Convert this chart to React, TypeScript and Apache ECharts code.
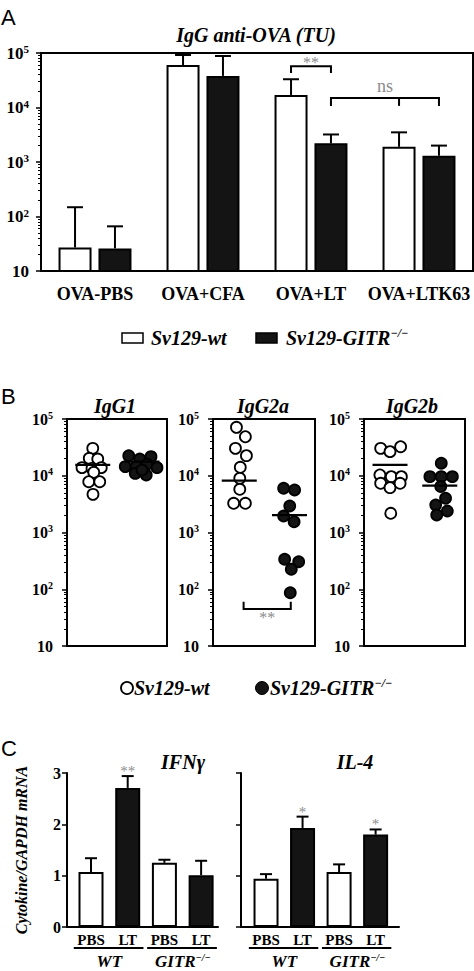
import { useEffect, useRef } from 'react';
import * as echarts from 'echarts';

const SERIF = '"Liberation Serif", "Times New Roman", "DejaVu Serif", serif';
const SANS = '"Liberation Sans", Arial, sans-serif';
const GREY = '#8c8c8c';
const INK = '#141414';

// Panel A - IgG anti-OVA (TU), mean and upper error value per group
const groupsA = ['OVA-PBS', 'OVA+CFA', 'OVA+LT', 'OVA+LTK63'];
const wtA = [27, 60000, 17000, 1900];
const wtAUpper = [148, 92000, 33000, 3500];
const koA = [26, 38000, 2200, 1300];
const koAUpper = [66, 88000, 3200, 2000];

// Panel B - individual mice (x = jitter position, 1 = wt column, 3 = GITR-/- column)
const g1WtX = [1.03, 0.89, 1.23, 0.6, 1.0, 1.37, 1.07, 0.87, 1.31, 1.04];
const g1Wt = [30400, 20300, 19700, 13900, 13500, 13900, 11500, 7850, 7850, 4700];
const g1KoX = [2.47, 2.91, 3.36, 2.33, 2.77, 3.2, 3.6, 2.73, 3.17, 3.0];
const g1Ko = [22500, 19700, 21700, 14500, 14500, 15900, 13900, 11000, 10300, 12600];
const g2aWtX = [0.92, 1.27, 0.88, 1.31, 1.07, 1.05, 1.05, 0.81, 1.27];
const g2aWt = [71300, 48700, 30400, 22600, 14100, 9000, 5770, 3270, 3270];
const g2aKoX = [2.77, 3.2, 3.01, 2.77, 3.18, 2.81, 3.36, 3.07, 3.03];
const g2aKo = [6010, 5610, 2930, 1950, 1550, 337, 306, 225, 87];
const g2bWtX = [0.66, 1.03, 1.45, 0.63, 1.08, 1.48, 0.66, 1.03, 1.43, 1.06];
const g2bWt = [30400, 26600, 32500, 10300, 9640, 9640, 7360, 6170, 7360, 2180];
const g2bKoX = [3.06, 2.61, 3.06, 3.5, 3.04, 3.23, 2.84, 3.3, 2.88];
const g2bKo = [16600, 9640, 9640, 9640, 6450, 4010, 3050, 2390, 2030];
const groupX = [1.03, 3.0];
const g1Means = [15500, 17800];
const g2aMeans = [8200, 2030];
const g2bMeans = [15500, 6700];
const isotypes = ['IgG1', 'IgG2a', 'IgG2b'];

// Panel C - cytokine / GAPDH mRNA
const treatments = ['PBS', 'LT', 'PBS', 'LT'];
const strains = ['WT', 'GITR'];
const ifng = [1.07, 2.71, 1.25, 1.01];
const ifngUpper = [1.34, 2.94, 1.31, 1.29];
const ifngSig = ['', '**', '', ''];
const il4 = [0.94, 1.93, 1.07, 1.8];
const il4Upper = [1.03, 2.15, 1.22, 1.9];
const il4Sig = ['', '*', '', '*'];

const DECADES = [10, 100, 1000, 10000, 100000];
const MINOR: number[] = [];
DECADES.slice(0, 4).forEach((d) => {
  for (let k = 2; k <= 9; k++) MINOR.push(k * d);
});

const BAR_A = 33;
const OFF_A = (BAR_A * 1.21) / 2;

const logLabel = (v: number) => {
  const e = Math.round(Math.log10(v));
  return e === 1 ? '{b|10}' : `{b|10}{s|${e}}`;
};

const logRich = (size: number) => ({
  b: { fontFamily: SERIF, fontSize: size, fontWeight: 'bold', color: '#000', lineHeight: size + 2 },
  s: {
    fontFamily: SERIF,
    fontSize: Math.round(size * 0.62),
    fontWeight: 'bold',
    color: '#000',
    lineHeight: Math.round(size * 0.62),
    verticalAlign: 'top',
  },
});

const logMajor = (gridIndex: number, size: number, margin: number) => ({
  type: 'log',
  logBase: 10,
  gridIndex,
  min: 10,
  max: 100000,
  position: 'left',
  axisLine: { show: true, onZero: false, lineStyle: { color: '#000', width: 2 } },
  axisTick: { show: true, length: 5, lineStyle: { color: '#000', width: 1.5 } },
  splitLine: { show: false },
  axisLabel: { margin, formatter: logLabel, rich: logRich(size) },
});

const logMinor = (gridIndex: number) => ({
  type: 'log',
  logBase: 10,
  gridIndex,
  min: 10,
  max: 100000,
  position: 'left',
  axisLine: { show: false, onZero: false },
  axisTick: { show: true, length: 3, customValues: MINOR, lineStyle: { color: '#000', width: 1 } },
  axisLabel: { show: false },
  splitLine: { show: false },
});

const font = (size: number, style = 'normal', weight = 'bold') => ({
  fontFamily: SERIF,
  fontSize: size,
  fontWeight: weight,
  fontStyle: style,
});

const errorBars = (
  xAxisIndex: number,
  yAxisIndex: number,
  means: number[],
  uppers: number[],
  offset: number,
  cap: number,
  marks?: string[],
) => ({
  type: 'custom',
  xAxisIndex,
  yAxisIndex,
  z: 4,
  silent: true,
  data: means.map((m, i) => [i, m, uppers[i]]),
  renderItem: (params: any, api: any) => {
    const lo = api.coord([api.value(0), api.value(1)]);
    const hi = api.coord([api.value(0), api.value(2)]);
    const x = lo[0] + offset;
    const children: any[] = [
      { type: 'line', shape: { x1: x, y1: lo[1], x2: x, y2: hi[1] }, style: { stroke: '#000', lineWidth: 2 } },
      { type: 'line', shape: { x1: x - cap, y1: hi[1], x2: x + cap, y2: hi[1] }, style: { stroke: '#000', lineWidth: 2 } },
    ];
    const mark = marks ? marks[params.dataIndex] : '';
    if (mark) {
      children.push({
        type: 'text',
        x,
        y: hi[1] - 5,
        style: { text: mark, fill: GREY, ...font(15, 'normal', 'normal'), align: 'center', verticalAlign: 'middle' },
      });
    }
    return { type: 'group', children };
  },
});

// significance brackets of panel A, in data coordinates (category, side of the pair)
const bracketsA = [
  { x0: 2, s0: -1, x1: 2, s1: 1, mid: -1, sm: 0, top: 57000, leg: 43000, text: '**', dy: -4 },
  { x0: 2, s0: 1, x1: 3, s1: 1, mid: 3, sm: -1, top: 14900, leg: 10700, text: 'ns', dy: -12 },
];

const scatter = (axis: number, xs: number[], ys: number[], filled: boolean) => ({
  type: 'scatter',
  xAxisIndex: axis,
  yAxisIndex: axis * 2,
  symbol: 'circle',
  symbolSize: 11,
  z: 3,
  silent: true,
  data: ys.map((v, i) => [xs[i], v]),
  itemStyle: { color: filled ? INK : '#fff', borderColor: '#000', borderWidth: 1.8, opacity: 1 },
});

const meanLines = (axis: number, means: number[]) => ({
  type: 'custom',
  xAxisIndex: axis,
  yAxisIndex: axis * 2,
  z: 6,
  silent: true,
  data: means.map((m, i) => [groupX[i], m]),
  renderItem: (_p: any, api: any) => {
    const p = api.coord([api.value(0), api.value(1)]);
    return {
      type: 'line',
      shape: { x1: p[0] - 17.5, y1: p[1], x2: p[0] + 17.5, y2: p[1] },
      style: { stroke: '#000', lineWidth: 2.2 },
    };
  },
});

const cBars = (axis: number, values: number[]) => ({
  type: 'bar',
  xAxisIndex: axis,
  yAxisIndex: axis + 4,
  barWidth: 25,
  z: 2,
  silent: true,
  data: values.map((v, i) => ({
    value: [i, v],
    itemStyle: { color: i % 2 ? INK : '#fff', borderColor: '#000', borderWidth: 2 },
  })),
});

const strainLabels = (axis: number) => ({
  type: 'custom',
  xAxisIndex: axis,
  yAxisIndex: axis + 4,
  silent: true,
  data: [[0.5, 0], [2.5, 0]],
  renderItem: (params: any, api: any) => {
    const x = api.value(0);
    const a = api.coord([x - 0.97, 0]);
    const b = api.coord([x + 0.93, 0]);
    const c = api.coord([x, 0]);
    const name = strains[params.dataIndex];
    return {
      type: 'group',
      children: [
        { type: 'line', shape: { x1: a[0], y1: a[1] + 21, x2: b[0], y2: b[1] + 21 }, style: { stroke: '#000', lineWidth: 2 } },
        {
          type: 'text',
          x: c[0],
          y: c[1] + 34,
          style: {
            text: name === 'WT' ? '{i|WT}' : '{i|GITR}{s|\u2212/\u2212}',
            align: 'center',
            verticalAlign: 'middle',
            rich: {
              i: { ...font(17, 'italic'), fill: '#000', lineHeight: 18 },
              s: { ...font(10, 'italic'), fill: '#000', lineHeight: 10, verticalAlign: 'top' },
            },
          },
        },
      ],
    };
  },
});

const cX = (gridIndex: number, min: number, max: number) => ({
  type: 'value',
  gridIndex,
  min,
  max,
  axisLine: { show: true, onZero: false, lineStyle: { color: '#000', width: 2 } },
  axisTick: { show: false },
  splitLine: { show: false },
  axisLabel: {
    customValues: [0, 1, 2, 3],
    formatter: (v: number) => treatments[Math.round(v)],
    margin: 5,
    color: '#000',
    ...font(15),
  },
});

const cY = (gridIndex: number, labels: boolean) => ({
  type: 'value',
  gridIndex,
  min: 0,
  max: 3,
  interval: 1,
  position: 'left',
  axisLine: { show: true, onZero: false, lineStyle: { color: '#000', width: 2 } },
  axisTick: { show: true, length: 5, lineStyle: { color: '#000', width: 1.5 } },
  splitLine: { show: false },
  axisLabel: { show: labels, margin: 6, color: '#000', ...font(16) },
  name: labels ? 'Cytokine/GAPDH mRNA' : '',
  nameLocation: 'middle',
  nameGap: 38,
  nameRotate: 90,
  nameTextStyle: { color: '#000', ...font(16, 'italic') },
});

const gText = (x: number, y: number, text: string, style: any) => ({
  type: 'text',
  x,
  y,
  silent: true,
  style: { text, fill: '#000', verticalAlign: 'middle', ...style },
});

const legendRich = {
  t: { ...font(20, 'italic'), fill: '#000', lineHeight: 22 },
  s: { ...font(12, 'italic'), fill: '#000', lineHeight: 12, verticalAlign: 'top' },
};

function buildOption(): any {
  const box = { show: true, borderColor: '#000', borderWidth: 2, backgroundColor: 'transparent' };
  return {
    animation: false,
    backgroundColor: '#fff',
    grid: [
      { left: 41, top: 53, width: 432, height: 218, ...box },
      { left: 67, top: 419, width: 100, height: 227, ...box },
      { left: 213, top: 419, width: 102, height: 227, ...box },
      { left: 364, top: 419, width: 101, height: 227, ...box },
      { left: 67, top: 773, width: 151, height: 154 },
      { left: 241, top: 773, width: 158, height: 154 },
    ],
    xAxis: [
      {
        type: 'category',
        gridIndex: 0,
        data: groupsA,
        axisLine: { show: true, lineStyle: { color: '#000', width: 2 } },
        axisTick: { show: false },
        axisLabel: { interval: 0, margin: 14, color: '#000', ...font(18) },
      },
      { type: 'value', gridIndex: 1, min: 0, max: 4, show: false },
      { type: 'value', gridIndex: 2, min: 0, max: 4, show: false },
      { type: 'value', gridIndex: 3, min: 0, max: 4, show: false },
      cX(4, -0.654, 3.46),
      cX(5, -0.685, 3.64),
    ],
    yAxis: [
      logMajor(0, 17, 12),
      logMinor(0),
      logMajor(1, 16, 14),
      logMinor(1),
      logMajor(2, 16, 14),
      logMinor(2),
      logMajor(3, 16, 14),
      logMinor(3),
      cY(4, true),
      cY(5, false),
    ],
    series: [
      // panel A
      {
        type: 'bar',
        xAxisIndex: 0,
        yAxisIndex: 0,
        data: wtA,
        barWidth: BAR_A,
        barGap: '21%',
        clip: true,
        silent: true,
        z: 2,
        itemStyle: { color: '#fff', borderColor: '#000', borderWidth: 2 },
      },
      {
        type: 'bar',
        xAxisIndex: 0,
        yAxisIndex: 0,
        data: koA,
        barWidth: BAR_A,
        barGap: '21%',
        clip: true,
        silent: true,
        z: 2,
        itemStyle: { color: INK, borderColor: '#000', borderWidth: 2 },
      },
      errorBars(0, 0, wtA, wtAUpper, -OFF_A, 8),
      errorBars(0, 0, koA, koAUpper, OFF_A, 8),
      {
        type: 'custom',
        xAxisIndex: 0,
        yAxisIndex: 0,
        silent: true,
        z: 5,
        data: bracketsA.map((b) => [b.x0, b.top]),
        renderItem: (params: any, api: any) => {
          const b = bracketsA[params.dataIndex];
          const p0 = api.coord([b.x0, b.top]);
          const p1 = api.coord([b.x1, b.top]);
          const yLeg = api.coord([b.x0, b.leg])[1];
          const xa = p0[0] + b.s0 * OFF_A;
          const xb = p1[0] + b.s1 * OFF_A;
          const line = { stroke: '#000', lineWidth: 2, fill: null };
          const children: any[] = [
            {
              type: 'polyline',
              shape: { points: [[xa, yLeg], [xa, p0[1]], [xb, p0[1]], [xb, yLeg]] },
              style: line,
            },
            {
              type: 'text',
              x: (xa + xb) / 2,
              y: p0[1] + b.dy,
              style: {
                text: b.text,
                fill: GREY,
                ...font(b.text === 'ns' ? 18 : 16, 'normal', 'normal'),
                align: 'center',
                verticalAlign: 'middle',
              },
            },
          ];
          if (b.mid >= 0) {
            const xm = api.coord([b.mid, b.top])[0] + b.sm * OFF_A;
            children.push({ type: 'line', shape: { x1: xm, y1: p0[1], x2: xm, y2: yLeg }, style: line });
          }
          return { type: 'group', children };
        },
      },
      // panel B
      scatter(1, g1WtX, g1Wt, false),
      scatter(1, g1KoX, g1Ko, true),
      meanLines(1, g1Means),
      scatter(2, g2aWtX, g2aWt, false),
      scatter(2, g2aKoX, g2aKo, true),
      meanLines(2, g2aMeans),
      scatter(3, g2bWtX, g2bWt, false),
      scatter(3, g2bKoX, g2bKo, true),
      meanLines(3, g2bMeans),
      {
        type: 'custom',
        xAxisIndex: 2,
        yAxisIndex: 4,
        silent: true,
        data: [[1.2, 45]],
        renderItem: (_p: any, api: any) => {
          const a = api.coord([1.2, 45]);
          const b = api.coord([3.05, 45]);
          const leg = api.coord([1.2, 60])[1];
          return {
            type: 'group',
            children: [
              {
                type: 'polyline',
                shape: { points: [[a[0], leg], [a[0], a[1]], [b[0], a[1]], [b[0], leg]] },
                style: { stroke: '#000', lineWidth: 2, fill: null },
              },
              {
                type: 'text',
                x: (a[0] + b[0]) / 2,
                y: a[1] + 9,
                style: { text: '**', fill: GREY, ...font(16, 'normal', 'normal'), align: 'center', verticalAlign: 'middle' },
              },
            ],
          };
        },
      },
      // panel C
      cBars(4, ifng),
      errorBars(4, 8, ifng, ifngUpper, 0, 6, ifngSig),
      strainLabels(4),
      cBars(5, il4),
      errorBars(5, 9, il4, il4Upper, 0, 6, il4Sig),
      strainLabels(5),
    ],
    graphic: [
      gText(1, 17, 'A', { fontFamily: SANS, fontSize: 22 }),
      gText(256, 35, 'IgG anti-OVA (TU)', { ...font(20, 'italic'), align: 'center' }),
      {
        type: 'rect',
        shape: { x: 122, y: 333, width: 21, height: 10 },
        style: { fill: '#fff', stroke: '#000', lineWidth: 1.5 },
      },
      gText(151, 338, '{t|Sv129-wt}', { rich: legendRich }),
      {
        type: 'rect',
        shape: { x: 256, y: 333, width: 21, height: 10 },
        style: { fill: INK, stroke: '#000', lineWidth: 1.5 },
      },
      gText(286, 338, '{t|Sv129-GITR}{s|\u2212/\u2212}', { rich: legendRich }),

      gText(1, 396, 'B', { fontFamily: SANS, fontSize: 22 }),
      gText(115, 406, isotypes[0], { ...font(20, 'italic'), align: 'center' }),
      gText(263, 406, isotypes[1], { ...font(20, 'italic'), align: 'center' }),
      gText(412, 406, isotypes[2], { ...font(20, 'italic'), align: 'center' }),
      { type: 'circle', shape: { cx: 127, cy: 688, r: 6 }, style: { fill: '#fff', stroke: '#000', lineWidth: 1.8 } },
      gText(134, 688, '{t|Sv129-wt}', { rich: legendRich }),
      { type: 'circle', shape: { cx: 262, cy: 688, r: 6.5 }, style: { fill: INK, stroke: '#000', lineWidth: 1 } },
      gText(270, 688, '{t|Sv129-GITR}{s|\u2212/\u2212}', { rich: legendRich }),

      gText(1, 748, 'C', { fontFamily: SANS, fontSize: 22 }),
      gText(183, 762, 'IFN\u03b3', { ...font(20, 'italic'), align: 'center' }),
      gText(355, 762, 'IL-4', { ...font(20, 'italic'), align: 'center' }),
    ],
  };
}

export default function App() {
  const chartRef = useRef<HTMLDivElement>(null);

  useEffect(() => {
    if (!chartRef.current) return;
    const chart = echarts.init(chartRef.current, null, { renderer: 'svg' });
    chart.setOption(buildOption());
    return () => {
      chart.dispose();
    };
  }, []);

  return (
    <div
      ref={chartRef}
      style={{ position: 'fixed', left: 0, top: 0, width: 474, height: 971, background: '#fff' }}
    />
  );
}
